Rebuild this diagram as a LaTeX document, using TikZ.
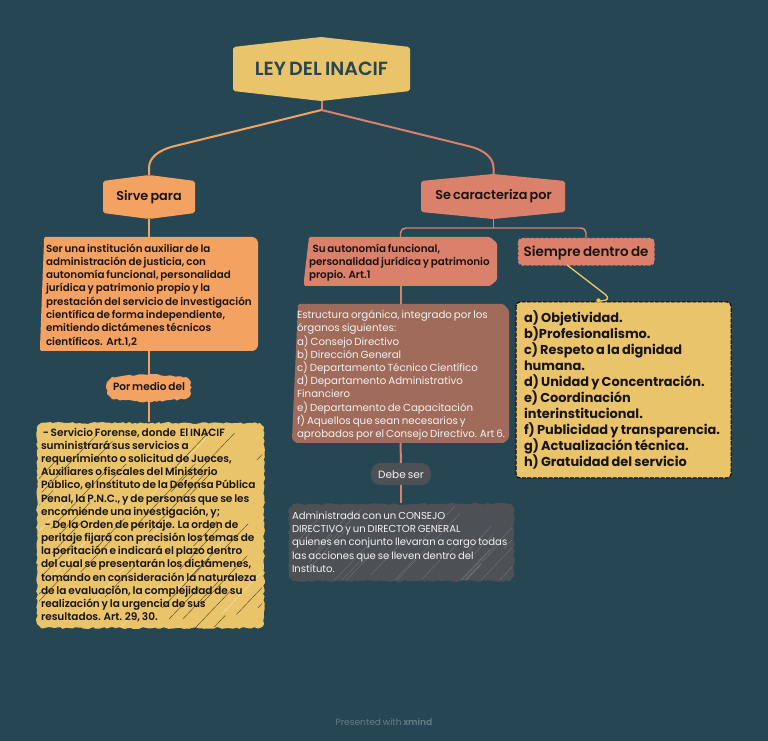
\documentclass[tikz,border=0pt]{standalone}
\usepackage{fontspec}
\setmainfont{Poppins}[WordSpace=0.72,BoldFont={Poppins SemiBold}]
\newfontfamily\heavy{Poppins}[WordSpace=0.8]
\usetikzlibrary{decorations.pathmorphing,shapes.misc}
\definecolor{bgc}{HTML}{264653}
\definecolor{yel}{HTML}{E9C46A}
\definecolor{org}{HTML}{F4A261}
\definecolor{sal}{HTML}{DA806B}
\definecolor{bro}{HTML}{A06B5A}
\definecolor{gry}{HTML}{4D5156}
\definecolor{ink}{HTML}{1A1412}
\definecolor{pin}{HTML}{DC6A90}
\tikzset{
 x=0.75pt,y=-0.75pt,
 boxtxt/.style={inner sep=0pt,outer sep=0pt},
 hexa/.style={boxtxt,text=ink,font=\bfseries\fontsize{9.6}{12}\selectfont},
 dk/.style={boxtxt,text=ink,font=\bfseries\fontsize{7.75}{9.97}\selectfont},
 lt/.style={boxtxt,text=white!90!gray,font=\fontsize{7.7}{9.9}\selectfont},
 con/.style={line width=1.5pt,line join=round},
 rough/.style={decorate,decoration={random steps,segment length=2.2pt,amplitude=0.7pt}},
}
% left-aligned block of fixed lines, #1 wide, baselines exact
\newcommand{\bx}[2]{\makebox[#1][l]{\let\\\cr\vbox{\halign{##\hfil\cr #2\crcr}}}}
\newcommand{\dn}[2]{\vbox{\kern#1\hbox{#2}}}
\newcommand{\upb}[2]{\vbox{\hbox{#2}\kern#1}}
\newcommand{\hatchbox}[7]{% x0 y0 x1 y1 colour seed count
 \begin{scope}
 \clip (#1,#2) rectangle (#3,#4);
 \pgfmathsetseed{#6}
 \foreach \i in {1,...,#7}{
  \pgfmathsetmacro{\hx}{#1+rnd*(#3-#1+60)}
  \pgfmathsetmacro{\hy}{#2+rnd*(#4-#2)}
  \pgfmathsetmacro{\hl}{15+rnd*50}
  \draw[#5,line width=0.35pt] (\hx,\hy) -- ++(-\hl,\hl*1.05);
 }
 \end{scope}}
\begin{document}
\begin{tikzpicture}
\useasboundingbox (0,0) rectangle (768,741);
\fill[bgc] (0,0) rectangle (768,741);

% shapes
\fill[yel,rounded corners=1.5pt] (233,47)--(321,37)--(410,47)--(410,91)--(321,101)--(233,91)--cycle;
\fill[org,rounded corners=1.5pt] (103,181)--(149,175)--(195,181)--(195,213)--(149,219)--(103,213)--cycle;
\fill[sal,rounded corners=1.5pt] (421,181)--(493,174)--(565,181)--(565,212)--(493,219)--(421,212)--cycle;
\fill[org,rounded corners=1pt] (44,237)--(254,237)--(258,241)--(258,347)--(254,351)--(40,351)--(40,347)--(44,241)--cycle;
\fill[org,rough] (112,377)--(149,374)--(186,377)--(191,382)--(191,394)--(186,399)--(149,402)--(112,399)--(107,394)--(107,382)--cycle;
\fill[yel,rough] (41,423)--(260,423)--(264,427)--(264,624)--(260,628)--(41,628)--(37,624)--(37,427)--cycle;
\hatchbox{39}{425}{262}{626}{black!60!yel}{11}{34}
\hatchbox{39}{425}{262}{626}{white!55!yel}{23}{14}
\fill[sal,rounded corners=1pt] (309,237)--(490,237)--(497,243)--(497,280)--(490,286)--(304,286)--(304,280)--cycle;
\fill[bro,rounded corners=1pt] (298,304)--(503,304)--(509,310)--(509,438)--(504,443)--(296,443)--(292,439)--cycle;
\fill[gry,rounded corners=3pt] (376,463)--(426,463)--(431,470)--(431,479)--(426,485)--(376,485)--(371,479)--(371,470)--cycle;
\fill[gry,rough] (293,504)--(510,504)--(514,508)--(514,577)--(510,581)--(293,581)--(289,577)--(289,508)--cycle;
\hatchbox{291}{506}{512}{579}{white!18!gry}{31}{30}
\draw[sal,line width=1.1pt,dash pattern=on 2.5pt off 1pt,fill=sal,rounded corners=3pt] (518.5,238.5) rectangle (654,265);
\draw[pin,line width=0.75pt,dash pattern=on 3pt off 1pt,fill=yel,rounded corners=3pt] (516,302) rectangle (731,478);

% nodes
\node[hexa,minimum height=48pt,font=\bfseries\fontsize{14.3}{16}\selectfont,text=bgc] (root) at (321.5,69) {LEY DEL INACIF};
\node[hexa,minimum height=33pt] (sirve) at (149,197) {Sirve para};
\node[hexa,minimum height=33.75pt] (carac) at (493.5,196.5) {Se caracteriza por};
\node[dk,minimum height=85.5pt] (ser) at (149,294) {\dn{1.5pt}{\bx{154.5pt}{Ser una institución auxiliar de la\\administración de justicia, con\\autonomía funcional, personalidad\\jurídica y patrimonio propio y la\\prestación del servicio de investigación\\científica de forma independiente,\\emitiendo dictámenes técnicos\\científicos.~~Art.1,2}}};
\node[boxtxt,minimum height=21pt,text=ink,font=\bfseries\fontsize{7.9}{10}\selectfont] (medio) at (149,388) {\upb{3pt}{Por medio del}};
\node[dk,minimum height=154.5pt,font=\bfseries\fontsize{7.9}{9.86}\selectfont] (serv) at (149,525) {\bx{162pt}{~- Servicio Forense, donde~~El INACIF\\suministrará sus servicios a\\requerimiento o solicitud de Jueces,\\Auxiliares o fiscales del Ministerio\\Público, el Instituto de la Defensa Pública\\Penal, la P.N.C., y de personas que se les\\encomiende una investigación, y;\\~~- De la Orden de peritaje. La orden de\\peritaje fijará con precisión los temas de\\la peritación e indicará el plazo dentro\\del cual se presentarán los dictámenes,\\tomando en consideración la naturaleza\\de la evaluación, la complejidad de su\\realización y la urgencia de sus\\resultados. Art. 29, 30.}};
\node[dk,minimum height=36.75pt] (auto) at (400.5,261.5) {\dn{1.5pt}{\bx{137.25pt}{~~Su autonomía funcional,\\personalidad jurídica y patrimonio\\propio. Art.1}}};
\node[lt,minimum height=104.25pt] (estr) at (400.5,373.5) {\dn{3pt}{\bx{155.25pt}{Estructura orgánica, integrado por los\\órganos siguientes:\\a) Consejo Directivo\\b) Dirección General\\c) Departamento Técnico Científico\\d) Departamento Administrativo\\Financiero\\e) Departamento de Capacitación\\f) Aquellos que sean necesarios y\\aprobados por el Consejo Directivo. Art 6.}}};
\node[boxtxt,minimum height=16.5pt,text=white!90!gray,font=\fontsize{7.9}{10}\selectfont] (debe) at (401,474) {\dn{1.2pt}{Debe ser}};
\node[lt,minimum height=58.5pt,font=\fontsize{7.56}{9.95}\selectfont] (admin) at (401,542) {\bx{163.5pt}{Administrada con un CONSEJO\\DIRECTIVO y un DIRECTOR GENERAL\\quienes en conjunto llevaran a cargo todas\\las acciones que se lleven dentro del\\Instituto.}};
\node[hexa,minimum height=20.25pt,font=\bfseries\fontsize{10.1}{12}\selectfont] (siem) at (586,251.5) {\dn{2.6pt}{Siempre dentro de}};
\node[boxtxt,text=ink,font=\heavy\bfseries\fontsize{9.7}{12.07}\selectfont,minimum height=132pt] (val) at (623.5,390) {\bx{149.25pt}{a) Objetividad.\\b)Profesionalismo.\\c) Respeto a la dignidad\\humana.\\d) Unidad y Concentración.\\e) Coordinación\\interinstitucional.\\f) Publicidad y transparencia.\\g) Actualización técnica.\\h) Gratuidad del servicio}};
\node[font=\fontsize{6.8}{8}\selectfont,text=white!30!bgc,inner sep=0pt] (foot) at (384,722) {Presented with \textbf{xmind}};

% connectors
\coordinate (rootj) at (321.5,110);
\coordinate (jl) at (149,168);
\coordinate (jr) at (493.5,168);
\coordinate (cj) at (493.5,228);
\coordinate (sp) at (567,265);
\coordinate (vp) at (600,301);
\draw[con,sal] (root.south) -- (rootj);
\draw[con,org] (rootj) -- (175,146) .. controls (158,150) and (149,158) .. (jl) -- (sirve.north);
\draw[con,sal] (rootj) -- (468,146) .. controls (485,150) and (493.5,158) .. (jr) -- (carac.north);
\draw[con,sal,line width=1.1pt] (carac.south) -- (cj);
\draw[con,sal,line width=1.1pt] (auto.north) -- (400.5,233) .. controls (400.5,230) and (403,228) .. (406,228) -- (cj) -- (580,228) .. controls (584,228) and (586,230) .. (586,233) -- (siem.north);
\draw[con,org] (sirve.south) -- (ser.north);
\draw[con,org] (ser.south) -- (medio.north);
\draw[con,org] (medio.south) -- (serv.north);
\draw[con,sal] (auto.south) -- (estr.north);
\draw[con,sal] (estr.south) -- (debe.north);
\draw[con,sal] (debe.south) -- (admin.north);
\draw[yel,line width=1pt,line join=round] (sp) -- (606,295) .. controls (609,298) and (607,300.5) .. (604,300.5) -- (vp);
\fill[yel] (598.5,300.5) circle (2.2);
\end{tikzpicture}
\end{document}
